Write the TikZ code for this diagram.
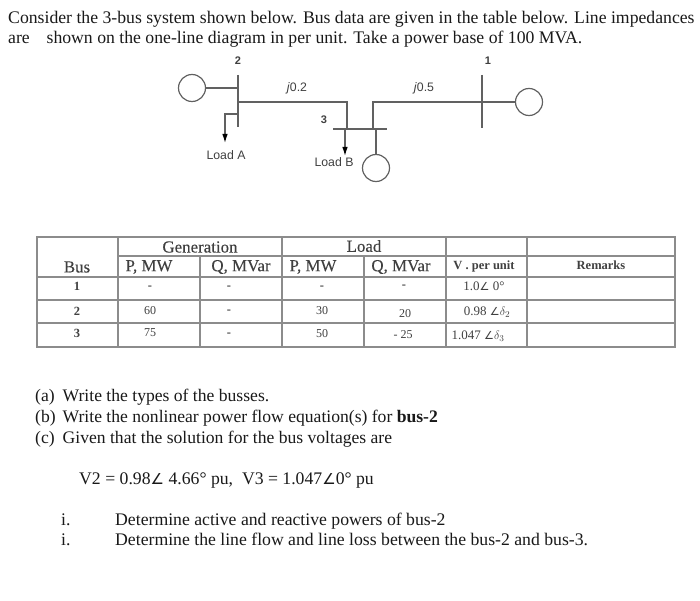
\documentclass[tikz,border=0pt]{standalone}
\usepackage{fontspec}
\setmainfont{Liberation Serif}
\setsansfont{Liberation Sans}
\newfontfamily\symfont{DejaVu Sans}
\newfontfamily\headfont[FakeBold=0.12]{Liberation Serif}
\usetikzlibrary{arrows.meta}
\newcommand{\ang}{{\symfont\fontsize{0.85em}{1em}\selectfont ∠}}
\newcommand{\qtag}[1]{\makebox[27.5pt][l]{#1}}
\definecolor{ink}{gray}{0.1}
\definecolor{wire}{gray}{0.38}
\definecolor{rule}{gray}{0.55}
\definecolor{soft}{gray}{0.25}
\tikzset{
  x=1pt,y=-1pt,
  para/.style={anchor=base west,inner sep=0,text=ink,font=\fontsize{17.7}{19}\selectfont},
  qline/.style={para,font=\fontsize{17.6}{19}\selectfont},
  gen/.style={draw=wire,circle,line width=1.2pt,minimum size=27,inner sep=0},
  wireline/.style={draw=wire,line width=1.2pt},
  busbar/.style={draw=wire,line width=1.3pt},
  loadline/.style={draw=wire,line width=1.2pt,-{Latex[length=9pt,width=5.5pt,black]}},
  dlabel/.style={inner sep=0,text=soft,font=\sffamily\fontsize{12.3}{14}\selectfont},
  nlabel/.style={inner sep=0,text=soft,font=\sffamily\bfseries\fontsize{11}{12}\selectfont},
  grid/.style={draw=rule,line width=1.4pt},
  thead/.style={inner sep=0,text=soft,font=\headfont\fontsize{16.9}{18}\selectfont},
  tcell/.style={inner sep=0,text=soft,font=\fontsize{12}{14}\selectfont},
  tvolt/.style={inner sep=0,text=soft,font=\fontsize{13}{14}\selectfont},
  tbold/.style={inner sep=0,text=soft,font=\bfseries\fontsize{12.5}{14}\selectfont},
}
\begin{document}
\begin{tikzpicture}
\useasboundingbox (0,0) rectangle (700,601);
\fill[white] (0,0) rectangle (700,601);
% intro text
\node[para] (t1) at (8,24) {Consider the 3-bus system shown below. Bus data are given in the table below. Line impedances};
\node[para] (t2) at (8,44) {are\hspace{0.7em} shown on the one-line diagram in per unit. Take a power base of 100 MVA.};
% buses
\coordinate (b2t) at (238,75);
\coordinate (b2b) at (238,127);
\coordinate (b1t) at (482,75);
\coordinate (b1b) at (482,128);
\coordinate (b3l) at (333,129);
\coordinate (b3r) at (387,129);
\draw[busbar] (b2t) -- (b2b);
\draw[busbar] (b1t) -- (b1b);
\draw[busbar] (b3l) -- (b3r);
% generators
\node[gen] (g2) at (192,88) {};
\node[gen] (g1) at (529,102) {};
\node[gen] (g3) at (376,168) {};
\coordinate (g2j) at (238,88);
\coordinate (g1j) at (482,102);
\coordinate (g3j) at (376,129);
\draw[wireline] (g2.east) -- (g2j);
\draw[wireline] (g1j) -- (g1.west);
\draw[wireline] (g3j) -- (g3.north);
% lines
\coordinate (l23a) at (238,102);
\coordinate (l23b) at (347,102);
\coordinate (l23c) at (347,129);
\draw[wireline] (l23a) -- (l23b) -- (l23c);
\coordinate (l13b) at (373,102);
\coordinate (l13c) at (373,129);
\draw[wireline] (g1j) -- (l13b) -- (l13c);
% loads
\coordinate (la0) at (238,114);
\coordinate (la1) at (225,114);
\coordinate (la2) at (225,143);
\draw[loadline] (la0) -- (la1) -- (la2);
\coordinate (lb0) at (345,129);
\coordinate (lb1) at (345,156);
\draw[loadline] (lb0) -- (lb1);
% labels
\node[nlabel] (n2) at (238,61) {2};
\node[nlabel] (n1) at (488,61) {1};
\node[nlabel] (n3) at (324,120) {3};
\node[dlabel] (z1) at (297,88) {\textit{j}0.2};
\node[dlabel] (z2) at (424,88) {\textit{j}0.5};
\node[dlabel] (lA) at (226,155) {Load A};
\node[dlabel] (lB) at (334,162) {Load B};
% table
\draw[grid] (37,237) rectangle (675,347);
\draw[grid] (118,256) -- (675,256);
\draw[grid] (37,277) -- (675,277);
\draw[grid] (37,300) -- (675,300);
\draw[grid] (37,323) -- (675,323);
\draw[grid] (118,237) -- (118,347);
\draw[grid] (200,256) -- (200,347);
\draw[grid] (282,237) -- (282,347);
\draw[grid] (364,256) -- (364,347);
\draw[grid] (446,237) -- (446,347);
\draw[grid] (527,237) -- (527,347);
\node[thead] (hGen) at (200,247) {Generation};
\node[thead] (hLoad) at (364,246) {Load};
\node[thead] (hBus) at (77,267) {Bus};
\node[thead] (hP1) at (149,267) {P, MW};
\node[thead] (hQ1) at (241,267) {Q, MVar};
\node[thead] (hP2) at (313,267) {P, MW};
\node[thead] (hQ2) at (401,267) {Q, MVar};
\node[tbold] (hV) at (484,266) {V . per unit};
\node[tbold] (hR) at (601,265) {Remarks};
\node[tbold] (r1) at (77,286) {1};
\node[tbold] (r2) at (77,311) {2};
\node[tbold] (r3) at (77,333) {3};
\node[tbold] (a1) at (150,288) {-};
\node[tcell] (a2) at (150,311) {60};
\node[tcell] (a3) at (150,333) {75};
\node[tbold] (b1) at (229,288) {-};
\node[tbold] (b2) at (229,312) {-};
\node[tbold] (b3) at (229,335) {-};
\node[tbold] (c1) at (322,288) {-};
\node[tcell] (c2) at (322,311) {30};
\node[tcell] (c3) at (322,334) {50};
\node[tbold] (d1) at (404,287) {-};
\node[tcell] (d2) at (405,314) {20};
\node[tcell] (d3) at (403,335) {- 25};
\node[tvolt] (e1) at (484,286) {1.0\ang\ 0°};
\node[tvolt] (e2) at (487,312) {0.98 \ang$\delta_2$};
\node[tvolt] (e3) at (478,336) {1.047 \ang$\delta_3$};
% questions
\node[qline] (q1) at (35,401) {\qtag{(a)}Write the types of the busses.};
\node[qline] (q2) at (35,422) {\qtag{(b)}Write the nonlinear power flow equation(s) for \textbf{bus-2}};
\node[qline] (q3) at (35,443) {\qtag{(c)}Given that the solution for the bus voltages are};
\node[para] (q4) at (79,484) {V2 = 0.98\ang\ 4.66° pu,\ \ V3 = 1.047\ang0° pu};
\node[para] (q5) at (61,525) {i.};
\node[para] (q6) at (115,525) {Determine active and reactive powers of bus-2};
\node[para] (q7) at (61,545) {i.};
\node[para] (q8) at (115,545) {Determine the line flow and line loss between the bus-2 and bus-3.};
\end{tikzpicture}
\end{document}
